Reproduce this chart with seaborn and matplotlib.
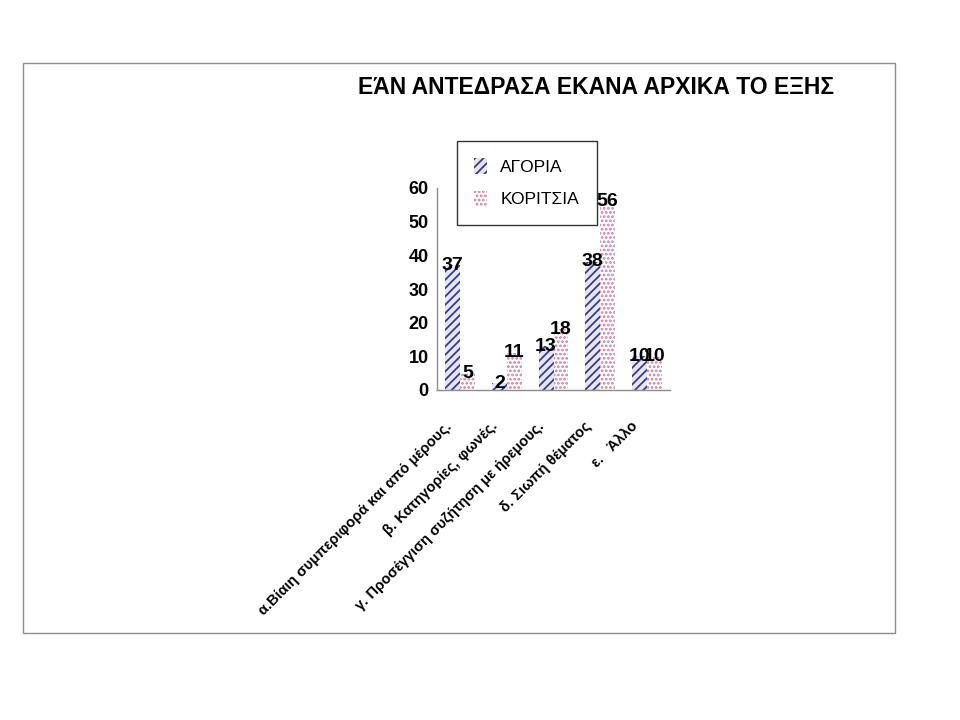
import matplotlib
matplotlib.use("Agg")
import matplotlib.pyplot as plt
import matplotlib.transforms as mtransforms
import seaborn as sns
import pandas as pd
import numpy as np
from matplotlib.patches import Rectangle, Patch

categories = [
    "α.Βίαιη συμπεριφορά και από μέρους.",
    "β. Κατηγορίες, φωνές.",
    "γ. Προσέγγιση συζήτηση με ήρεμους.",
    "δ. Σιωπή θέματος",
    "ε.   Άλλο",
]
series_names = ["ΑΓΟΡΙΑ", "ΚΟΡΙΤΣΙΑ"]
boys = [37, 2, 13, 38, 10]
girls = [5, 11, 18, 56, 10]
yticks = [0, 10, 20, 30, 40, 50, 60]
title = "ΕΆΝ ΑΝΤΕΔΡΑΣΑ ΕΚΑΝΑ ΑΡΧΙΚΑ ΤΟ ΕΞΗΣ"

df = pd.DataFrame({
    "cat": categories * 2,
    "series": [series_names[0]] * len(categories) + [series_names[1]] * len(categories),
    "value": boys + girls,
})

sns.set_theme(style="white")
plt.rcParams['font.family'] = ['Liberation Sans', 'DejaVu Sans']
plt.rcParams['hatch.linewidth'] = 1.3
plt.rcParams['text.color'] = 'black'
plt.rcParams['xtick.color'] = 'black'
plt.rcParams['ytick.color'] = 'black'

fig = plt.figure(figsize=(9.6, 7.2), dpi=100)
fig.patch.set_facecolor("white")
fig.patches.append(Rectangle((23 / 960, 1 - 633 / 720), (895 - 23) / 960, (633 - 63) / 720,
                             transform=fig.transFigure, fill=False, edgecolor="#8c8c8c",
                             linewidth=1.0))

ax = fig.add_axes([437 / 960, 1 - 390 / 720, (670 - 437) / 960, (390 - 188) / 720])
sns.barplot(data=df, x="cat", y="value", hue="series", hue_order=series_names,
            order=categories, width=0.64, ax=ax, legend=False, saturation=1)

styles = [
    dict(facecolor="#e6e6f2", edgecolor="#3a3a8c", hatch="////"),
    dict(facecolor="white", edgecolor="#d07aa0", hatch="...."),
]
for cont, st in zip(ax.containers, styles):
    for bar in cont:
        bar.set_facecolor(st["facecolor"])
        bar.set_edgecolor(st["edgecolor"])
        bar.set_hatch(st["hatch"])
        bar.set_linewidth(0)
    ax.bar_label(cont, fontsize=14, fontweight="bold", padding=-6, color="black")

ax.set_ylim(0, 60)
ax.set_xlim(-0.5, len(categories) - 0.5)
ax.set_yticks(yticks)
ax.set_yticklabels([str(v) for v in yticks], fontsize=13, fontweight="bold")
ax.set_xlabel("")
ax.set_ylabel("")
for s in ["top", "right"]:
    ax.spines[s].set_visible(False)
for s in ["left", "bottom"]:
    ax.spines[s].set_color("#8c8c8c")
    ax.spines[s].set_linewidth(1.0)

ax.set_xticks(range(len(categories)))
ax.set_xticklabels(categories, rotation=45, ha="right", rotation_mode="anchor",
                   fontsize=10.5, fontweight="bold")
ax.tick_params(axis="x", length=0, pad=21)
offset = mtransforms.ScaledTranslation(-16 / 100, 0, fig.dpi_scale_trans)
for lbl in ax.get_xticklabels():
    lbl.set_transform(lbl.get_transform() + offset)
ax.set_xticks(np.arange(-0.5, len(categories)), minor=True)
ax.tick_params(axis="x", which="minor", length=5, color="#8c8c8c", direction="out")
ax.tick_params(axis="y", length=4, color="#8c8c8c", direction="out", pad=2)

fig.text(596 / 960, 1 - 88 / 720, title, ha="center", va="center",
         fontsize=16.5, fontweight="bold", color="black")

handles = [Patch(facecolor=styles[0]["facecolor"], edgecolor=styles[0]["edgecolor"],
                 hatch=styles[0]["hatch"], linewidth=0),
           Patch(facecolor=styles[1]["facecolor"], edgecolor=styles[1]["edgecolor"],
                 hatch=styles[1]["hatch"], linewidth=0)]
leg = fig.legend(handles, series_names, loc="upper left",
                 bbox_to_anchor=(457 / 960, 1 - 141 / 720), fontsize=12.5,
                 handlelength=0.7, handleheight=1.0, handletextpad=0.8,
                 labelspacing=0.9, borderpad=1.0, borderaxespad=0,
                 fancybox=False, frameon=True, edgecolor="black")
leg.get_frame().set_linewidth(1.0)

fig.savefig("out.png", dpi=100)
